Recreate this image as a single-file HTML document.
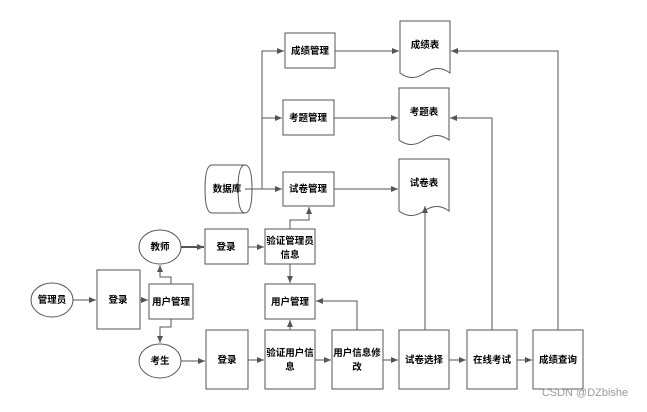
<!DOCTYPE html>
<html><head><meta charset="utf-8"><style>
body{margin:0;background:#fff;width:647px;height:407px;overflow:hidden}
text{font-family:"Liberation Sans","Noto Sans CJK SC",sans-serif;font-size:9.5px;font-weight:bold;fill:#000;text-anchor:middle}
</style></head><body>
<svg width="647" height="407" viewBox="0 0 647 407">
<defs><marker id="a" markerWidth="8" markerHeight="8" refX="7" refY="4" orient="auto" markerUnits="userSpaceOnUse"><path d="M0,1 L7,4 L0,7z" fill="#555"/></marker></defs>
<g fill="#fff" stroke="#555" stroke-width="1">
<ellipse cx="52" cy="300" rx="21" ry="17"/>
<rect x="97" y="270" width="43" height="59"/>
<rect x="149" y="284" width="44" height="35"/>
<ellipse cx="160" cy="247" rx="21" ry="17"/>
<ellipse cx="160" cy="361" rx="21" ry="17"/>
<rect x="205" y="229" width="43" height="35"/>
<rect x="265" y="229" width="50" height="35"/>
<rect x="265" y="284" width="50" height="35"/>
<rect x="206" y="330" width="42" height="59"/>
<rect x="265" y="330" width="50" height="59"/>
<rect x="332" y="330" width="51" height="59"/>
<rect x="399" y="330" width="50" height="59"/>
<rect x="467" y="330" width="50" height="59"/>
<rect x="533" y="330" width="50" height="59"/>
<rect x="285" y="33" width="50" height="35"/>
<rect x="283" y="100" width="51" height="35"/>
<rect x="283" y="172" width="51" height="34"/>
<path d="M212,165 L245,165 Q252,165 252,189 Q252,213 245,213 L212,213 Q205,213 205,189 Q205,165 212,165z"/>
<path d="M245,165 Q238,165 238,189 Q238,213 245,213" fill="none"/>
<path d="M400,21 L450,21 L450,73 Q438,64 425,73 Q412,82 400,73z"/>
<path d="M399,88 L449,88 L449,140 Q437,131 424,140 Q411,149 399,140z"/>
<path d="M399,159 L449,159 L449,211 Q437,202 424,211 Q411,220 399,211z"/>
</g>
<g fill="none" stroke="#555" stroke-width="1" marker-end="url(#a)">
<path d="M73,300 H96"/><path d="M140,300 H148"/>
<path d="M171,284 V277 H160 V265"/><path d="M171,319 V327 H160 V343"/>
<path d="M181,247 H204" stroke-width="2"/><path d="M181,361 H205"/>
<path d="M248,247 H264"/><path d="M248,360 H264"/>
<path d="M290,264 V283"/><path d="M290,330 V320"/>
<path d="M290,229 V220 H309 V207"/>
<path d="M315,360 H331"/><path d="M383,360 H398"/><path d="M449,360 H466"/><path d="M517,360 H532"/>
<path d="M357,330 V301 H316"/>
<path d="M425,330 V206"/>
<path d="M492,330 V118 H450"/>
<path d="M558,330 V51 H451"/>
<path d="M245,189 H282"/>
<path d="M262,189 V51 H284"/><path d="M262,118 H282"/>
<path d="M335,51 H399"/><path d="M334,118 H398"/><path d="M334,189 H398"/>
</g>
<text x="52" y="303">管理员</text>
<text x="118" y="303">登录</text>
<text x="171" y="305">用户管理</text>
<text x="160" y="250">教师</text>
<text x="160" y="364">考生</text>
<text x="226" y="250">登录</text>
<text x="290" y="244">验证管理员</text><text x="290" y="258">信息</text>
<text x="290" y="305">用户管理</text>
<text x="227" y="363">登录</text>
<text x="290" y="356">验证用户信</text><text x="290" y="370">息</text>
<text x="357" y="356">用户信息修</text><text x="357" y="370">改</text>
<text x="424" y="363">试卷选择</text>
<text x="492" y="363">在线考试</text>
<text x="558" y="363">成绩查询</text>
<text x="310" y="54">成绩管理</text>
<text x="308" y="121">考题管理</text>
<text x="308" y="192">试卷管理</text>
<text x="227" y="192">数据库</text>
<text x="425" y="48">成绩表</text>
<text x="424" y="115">考题表</text>
<text x="424" y="186">试卷表</text>
<text x="585" y="396" style="font-weight:normal;font-size:11px;fill:#999">CSDN @DZbishe</text>
</svg>
</body></html>
